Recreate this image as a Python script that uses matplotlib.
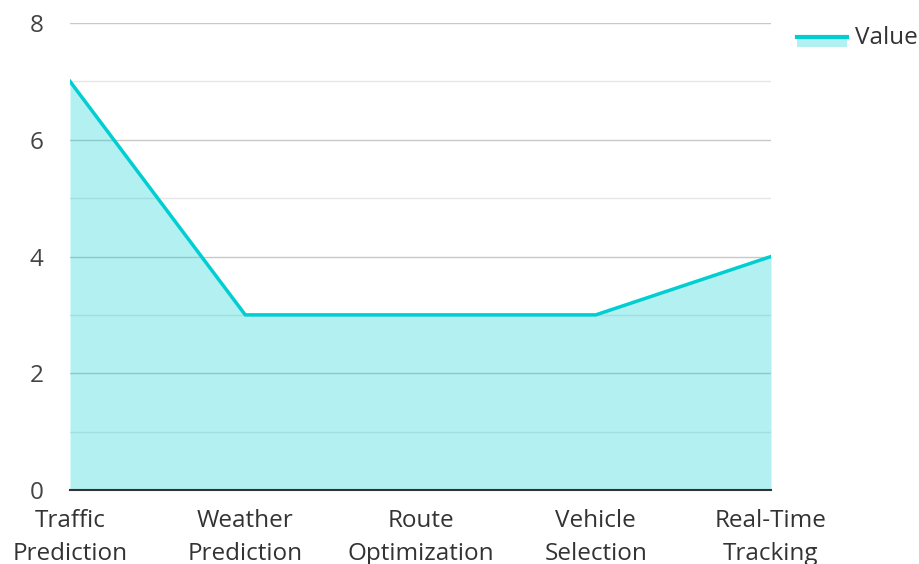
import matplotlib
matplotlib.use("Agg")
import matplotlib.pyplot as plt
from matplotlib.patches import Rectangle
from matplotlib.lines import Line2D

categories = ["Traffic\nPrediction", "Weather\nPrediction", "Route\nOptimization", "Vehicle\nSelection", "Real-Time\nTracking"]
values = [7, 3, 3, 3, 4]
y_ticks = [0, 2, 4, 6, 8]
series_name = "Value"

plt.rcParams['font.family'] = ['Open Sans', 'DejaVu Sans']
line_color = "#00CED1"
fill_color = "#00CED1"
FS = 17.5
W, H = 920, 564

fig = plt.figure(figsize=(9.2, 5.64), dpi=100)
ax = fig.add_axes([70/W, 1-490/H, (771-70)/W, (490-23)/H])

x = list(range(len(categories)))
ax.fill_between(x, values, 0, color=fill_color, alpha=0.3, linewidth=0, zorder=3)
ax.plot(x, values, color=line_color, linewidth=2.5, zorder=4)

ax.set_xlim(0, len(categories)-1)
ax.set_ylim(0, 8)
ax.set_yticks(y_ticks)
ax.set_yticks([1, 3, 5, 7], minor=True)
ax.grid(axis='y', which='major', color="#c8c8c8", linewidth=1, zorder=1)
ax.grid(axis='y', which='minor', color="#e6e6e6", linewidth=1, zorder=1)
ax.set_axisbelow(True)
ax.set_xticks(x)
ax.set_xticklabels(categories, fontsize=FS, color="#333333", linespacing=1.45)
ax.tick_params(axis='x', length=0, pad=14)
ax.tick_params(axis='y', which='both', length=0, pad=19, labelsize=FS, labelcolor="#444444")
for s in ['top', 'right', 'left']:
    ax.spines[s].set_visible(False)
ax.spines['bottom'].set_color("#333333")
ax.spines['bottom'].set_linewidth(1.5)
ax.spines['bottom'].set_zorder(5)

# legend (drawn in figure coordinates)
fig.add_artist(Rectangle((797/W, 1-47/H), 50/W, 11/H, transform=fig.transFigure,
                         facecolor=fill_color, alpha=0.3, edgecolor='none'))
fig.add_artist(Line2D([797/W, 847/W], [1-36.5/H, 1-36.5/H], transform=fig.transFigure,
                      color=line_color, linewidth=3))
fig.text(855/W, 1-37.5/H, series_name, fontsize=FS, color="#333333", va='center', ha='left')

fig.savefig("out.png", dpi=100)
